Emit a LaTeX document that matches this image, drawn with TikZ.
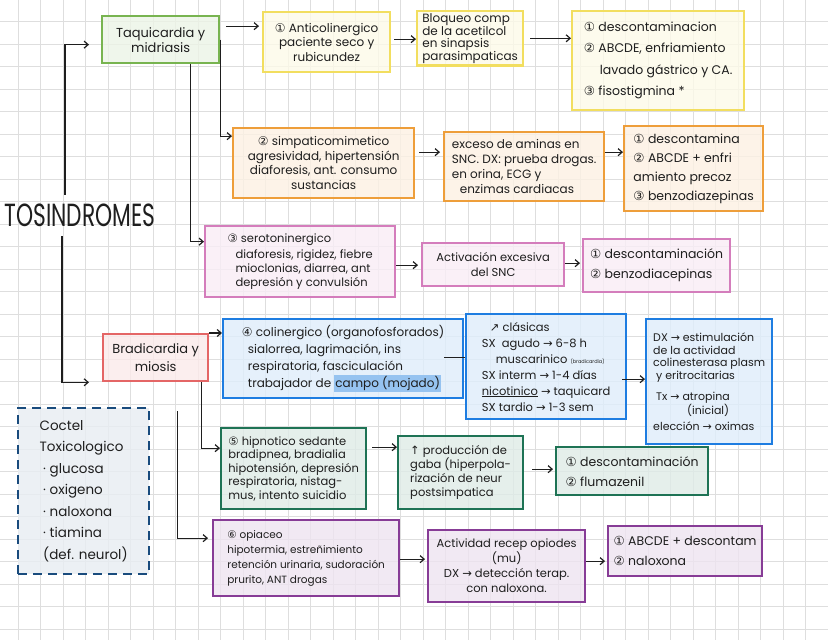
\documentclass[tikz,border=0pt]{standalone}
\usepackage{fontspec}
\setmainfont{Poppins}
\newfontfamily\simbf{DejaVu Sans}
\newcommand\simbolo[1]{{\simbf #1}}
\usepackage{xcolor}
\definecolor{tinta}{RGB}{30,30,30}
\definecolor{gris}{RGB}{222,222,222}
\definecolor{verdeT}{RGB}{120,180,80}
\definecolor{amarillo}{RGB}{242,222,95}
\definecolor{naranja}{RGB}{238,158,58}
\definecolor{rosa}{RGB}{212,125,188}
\definecolor{rojo}{RGB}{228,102,102}
\definecolor{azul}{RGB}{30,125,225}
\definecolor{verdeO}{RGB}{30,115,85}
\definecolor{morado}{RGB}{135,60,150}
\definecolor{azulO}{RGB}{25,75,125}
\definecolor{resalte}{RGB}{150,195,240}
\usetikzlibrary{arrows.meta}

\begin{document}
\begin{tikzpicture}[x=1pt,y=-1pt,
    caja/.style={draw=#1,fill=#1!14,fill opacity=0.8,text opacity=1,
      line width=2.3pt,anchor=north west,inner sep=2pt,text=tinta,align=left},
    flecha/.style={-{Straight Barb[length=4pt,width=7pt]},line width=1.2pt,tinta},
    rejilla/.style={gris,line width=0.8pt}
    ]
    \useasboundingbox[fill=white] (0,0) rectangle (828,640);
    % cuadricula
    \foreach \gx in {18.3,40.8,...,828} \draw[rejilla] (\gx,0) -- (\gx,640);
    \foreach \gy in {21.5,44,...,640} \draw[rejilla] (0,\gy) -- (828,\gy);

    \node[font=\fontsize{32}{32}\selectfont,text=tinta,xscale=0.68,transform shape] (tos) at (80,215.5) {TOSINDROMES};

    % taquicardia
    \node[caja=verdeT, minimum width=117pt, minimum height=47pt, align=center,
    font=\fontsize{13}{15}\selectfont] (taqui) at (101,15) {Taquicardia y\\midriasis};
    \node[caja=amarillo, minimum width=127pt, minimum height=60pt, align=center,
    font=\fontsize{12}{14.5}\selectfont] (anticol) at (262,11) {\simbolo{①} Anticolinergico\\paciente seco y\\rubicundez};
    \node[caja=amarillo, minimum width=106pt, minimum height=54pt,
    font=\fontsize{12}{11.8}\selectfont] (bloqueo) at (416,10) {Bloqueo comp\\de la acetilcol\\en sinapsis\\parasimpaticas};
    \node[caja=amarillo, minimum width=172pt, minimum height=99pt,
    font=\fontsize{12.5}{21.5}\selectfont] (descA) at (571,10) {\simbolo{①} descontaminacion\\\simbolo{②} ABCDE, enfriamiento\\\hspace{16pt}lavado gástrico y CA.\\\simbolo{③} fisostigmina *};

    \node[caja=naranja, minimum width=181pt, minimum height=70pt, align=center,
    font=\fontsize{12}{14.5}\selectfont] (simpat) at (232,127) {\simbolo{②} simpaticomimetico\\agresividad, hipertensión\\diaforesis, ant. consumo\\sustancias};
    \node[caja=naranja, minimum width=160pt, minimum height=69pt,
    font=\fontsize{12}{15}\selectfont] (exceso) at (443,131) {exceso de aminas en\\SNC. DX: prueba drogas.\\en orina, ECG y\\\hspace{8pt}enzimas cardiacas};
    \node[caja=naranja, minimum width=139pt, minimum height=85pt,
    font=\fontsize{12.5}{19}\selectfont] (descS) at (623,125) {\simbolo{①} descontamina\\\simbolo{②} ABCDE + enfri\\amiento precoz\\\simbolo{③} benzodiazepinas};

    \node[caja=rosa, minimum width=190pt, minimum height=71pt,
    font=\fontsize{11.5}{14}\selectfont] (serot) at (204,225) {\simbolo{③} serotoninergico\\[2pt]\hspace{8pt}diaforesis, rigidez, fiebre\\\hspace{8pt}mioclonias, diarrea, ant\\\hspace{8pt}depresión y convulsión};
    \node[caja=rosa, minimum width=142pt, minimum height=43pt, align=center,
    font=\fontsize{11.5}{15}\selectfont] (activ) at (421,242) {Activación excesiva\\del SNC};
    \node[caja=rosa, minimum width=147pt, minimum height=53pt,
    font=\fontsize{12.5}{20}\selectfont] (descR) at (582,238) {\simbolo{①} descontaminación\\\simbolo{②} benzodiacepinas};

    % bradicardia
    \node[caja=rojo, minimum width=105pt, minimum height=47pt, align=center,
    font=\fontsize{13}{18}\selectfont] (brad) at (102,333) {Bradicardia y\\miosis};
    \node[caja=azul, minimum width=240pt, minimum height=79pt,
    font=\fontsize{12}{17}\selectfont] (colin) at (222,318) {\simbolo{④} colinergico (organofosforados)\\\hspace{6pt}sialorrea, lagrimación, ins\\\hspace{6pt}respiratoria, fasciculación\\\hspace{6pt}trabajador de {\setlength\fboxsep{1pt}\colorbox{resalte}{campo (mojado)}}};
    \node[caja=azul, minimum width=160pt, minimum height=105pt,
    font=\fontsize{11.5}{16}\selectfont] (sx) at (465,313) {\hspace{8pt}\simbolo{↗} clásicas\\SX\ \ agudo \simbolo{→} 6-8 h\\\hspace{14pt}muscarinico {\fontsize{5}{5}\selectfont(bradicardia)}\\SX interm \simbolo{→} 1-4 días\\\underline{nicotinico} \simbolo{→} taquicard\\SX tardio \simbolo{→} 1-3 sem};
    \node[caja=azul, minimum width=126pt, minimum height=125pt,
    font=\fontsize{11}{12.8}\selectfont] (dx) at (645,318) {DX \simbolo{→} estimulación\\de la actividad\\colinesterasa plasm\\\hspace{3pt}y eritrocitarias\\[8pt]\hspace{3pt}Tx \simbolo{→} atropina\\\hspace{34pt}(inicial)\\[3pt]elección \simbolo{→} oximas};

    \node[caja=verdeO, minimum width=145pt, minimum height=81pt,
    font=\fontsize{11.5}{13.5}\selectfont] (hipn) at (220,427) {\simbolo{⑤} hipnotico sedante\\bradipnea, bradialia\\hipotensión, depresión\\respiratoria, nistag-\\mus, intento suicidio};
    \node[caja=verdeO, minimum width=125pt, minimum height=73pt,
    font=\fontsize{11.5}{14}\selectfont] (prod) at (397,435) {\simbolo{↑} producción de\\gaba (hiperpola-\\rización de neur\\postsimpatica};
    \node[caja=verdeO, minimum width=152pt, minimum height=48pt,
    font=\fontsize{12.5}{20}\selectfont] (descH) at (555,446) {\simbolo{①} descontaminación\\\simbolo{②} flumazenil};

    \node[caja=morado, minimum width=186pt, minimum height=76pt,
    font=\fontsize{10.5}{15}\selectfont] (opia) at (212,519) {\simbolo{⑥} opiaceo\\hipotermia, estreñimiento\\retención urinaria, sudoración\\prurito, ANT drogas};
    \node[caja=morado, minimum width=157pt, minimum height=72pt, align=center,
    font=\fontsize{11.5}{15}\selectfont] (activO) at (427,529) {Actividad recep opiodes\\(mu)\\DX \simbolo{→} detección terap.\\con naloxona.};
    \node[caja=morado, minimum width=154pt, minimum height=50pt,
    font=\fontsize{12.5}{20}\selectfont] (descO) at (607,525) {\simbolo{①} ABCDE + descontam\\\simbolo{②} naloxona};

    % coctel
    \node[caja=azulO, dashed, dash pattern=on 9pt off 6pt, fill=azulO!10,
    minimum width=131pt, minimum height=166pt,
    font=\fontsize{13.5}{21.5}\selectfont] (coctel) at (17,407) {Coctel\\Toxicologico\\\ \textperiodcentered\ glucosa\\\ \textperiodcentered\ oxigeno\\\ \textperiodcentered\ naloxona\\\ \textperiodcentered\ tiamina\\\ (def. neurol)};

    % conexiones
    \draw[flecha, shorten >=12pt] ([xshift=-15pt,yshift=6pt]tos.north) |- ([yshift=-5pt]taqui.west);
    \draw[flecha, shorten >=13pt] ([xshift=-18pt,yshift=-6pt]tos.south) |- (brad.south west);
    \draw[flecha] (taqui.east) |- ([yshift=27pt]simpat.west);
    \draw[flecha] ([xshift=29.5pt]taqui.south) |- ([yshift=20pt]serot.west);
    \draw[flecha] (brad.north east) -- (brad.north east -| colin.west);
    \draw[flecha] ([xshift=45.5pt]brad.south) |- ([yshift=20.5pt]hipn.west);
    \draw[flecha, shorten <=29pt] ([xshift=21.5pt]brad.south) |- ([yshift=20pt,xshift=-4pt]opia.west);

    \draw[flecha, shorten <=6pt, shorten >=3pt] ([yshift=13.5pt]taqui.east) -- ([yshift=13.5pt]taqui.east -| anticol.west);
    \draw[flecha, shorten <=3pt] ([yshift=3pt]anticol.east) -- ([yshift=3pt]anticol.east -| bloqueo.west);
    \draw[flecha, shorten <=6pt] (bloqueo.east) -- (bloqueo.east -| descA.west);
    \draw[flecha, shorten <=4pt, shorten >=3pt] ([yshift=11pt]simpat.east) -- ([yshift=11pt]simpat.east -| exceso.west);
    \draw[flecha] ([yshift=14.5pt]exceso.east) -- ([yshift=14.5pt]exceso.east -| descS.west);
    \draw[flecha] ([yshift=-3.5pt]serot.east) -- ([yshift=-3.5pt,xshift=-3pt]serot.east -| activ.west);
    \draw[flecha] ([yshift=1.5pt]activ.east) -- ([yshift=1.5pt,xshift=-2pt]activ.east -| descR.west);
    \draw[line width=1.2pt, tinta, shorten <=-20pt] ([yshift=1.5pt]colin.east) -- ([yshift=1.5pt]colin.east -| sx.west);
    \draw[flecha, shorten <=-5pt] ([yshift=-12.5pt]sx.east) -- ([yshift=-12.5pt]sx.east -| dx.west);
    \draw[flecha, shorten <=5pt] ([yshift=21.5pt]hipn.east) -- ([yshift=21.5pt]hipn.east -| prod.west);
    \draw[flecha, shorten <=8pt] ([yshift=3.5pt]prod.east) -- ([yshift=3.5pt,xshift=-2pt]prod.east -| descH.west);
    \draw[flecha] ([yshift=-1pt]opia.east) -- ([yshift=-1pt,xshift=-2pt]opia.east -| activO.west);
    \draw[flecha] ([yshift=5pt]activO.east) -- ([yshift=5pt,xshift=-2pt]activO.east -| descO.west);
  \end{tikzpicture}
\end{document}
